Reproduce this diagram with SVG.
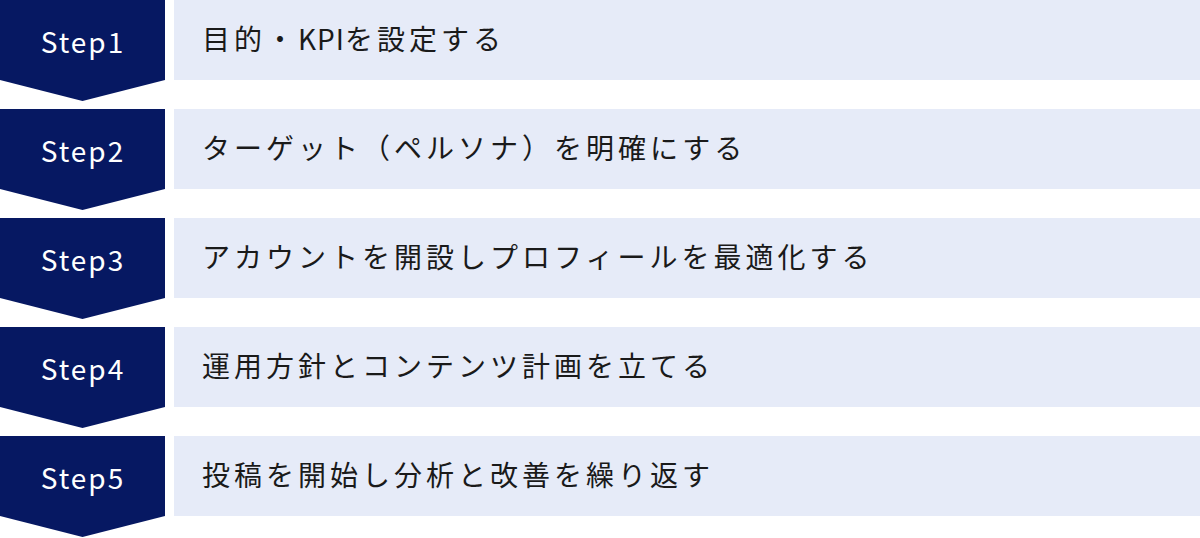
<svg xmlns="http://www.w3.org/2000/svg" width="1200" height="538" viewBox="0 0 1200 538">
<style>
.bg{fill:#ffffff}
.badge{fill:#061862}
.bar{fill:#e6ebf8}
.st{font-family:"Noto Sans CJK JP","Noto Sans",sans-serif;font-size:28px;fill:#ffffff;text-anchor:middle;letter-spacing:2px}
.tx{font-family:"Noto Sans CJK JP","Noto Sans",sans-serif;font-size:28px;fill:#1a1a1a;letter-spacing:4px}
.lat{letter-spacing:1px}
</style>
<rect class="bg" x="0" y="0" width="1200" height="538"/>
<g id="step1">
<polygon class="badge" points="0,0 165,0 165,80 82.5,101 0,80"/>
<rect class="bar" x="174" y="0" width="1026" height="80"/>
<text class="st" x="83" y="53">Step1</text>
<text class="tx" x="202" y="50">目的・<tspan class="lat">KPI</tspan>を設定する</text>
</g>
<g id="step2">
<polygon class="badge" points="0,109 165,109 165,189 82.5,210 0,189"/>
<rect class="bar" x="174" y="109" width="1026" height="80"/>
<text class="st" x="83" y="162">Step2</text>
<text class="tx" x="202" y="159">ターゲット（ペルソナ）を明確にする</text>
</g>
<g id="step3">
<polygon class="badge" points="0,218 165,218 165,298 82.5,319 0,298"/>
<rect class="bar" x="174" y="218" width="1026" height="80"/>
<text class="st" x="83" y="271">Step3</text>
<text class="tx" x="202" y="268">アカウントを開設しプロフィールを最適化する</text>
</g>
<g id="step4">
<polygon class="badge" points="0,327 165,327 165,407 82.5,428 0,407"/>
<rect class="bar" x="174" y="327" width="1026" height="80"/>
<text class="st" x="83" y="380">Step4</text>
<text class="tx" x="202" y="377">運用方針とコンテンツ計画を立てる</text>
</g>
<g id="step5">
<polygon class="badge" points="0,436 165,436 165,516 82.5,537 0,516"/>
<rect class="bar" x="174" y="436" width="1026" height="80"/>
<text class="st" x="83" y="489">Step5</text>
<text class="tx" x="202" y="486">投稿を開始し分析と改善を繰り返す</text>
</g>
<g id="connectors"></g>
</svg>
